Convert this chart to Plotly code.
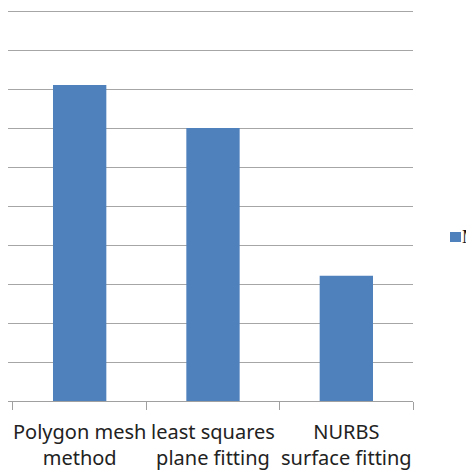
import plotly.graph_objects as go

# categories (first one is cut off at the left edge of the picture)
categories = ["Delaunay<br>triangulation", "Polygon mesh<br>method",
              "least squares<br>plane fitting", "NURBS<br>surface fitting"]
bar_categories = categories[1:]
bar_values = [8.1, 7.0, 3.21]
series_name = "Mean error"
bar_color = "#4f81bd"

# pixel layout (page body adds an 8px offset)
plot_w, plot_h = 405, 393
cat_px = 133.5
left_cut = 5  # px of the first category visible left of its boundary

x0 = 0.5 - left_cut / cat_px
y_top = plot_h / 39.0

fig = go.Figure()
fig.add_trace(go.Bar(
    x=bar_categories, y=bar_values, name=series_name,
    marker=dict(color=bar_color, line=dict(width=0)),
    showlegend=False,
))

# label of the clipped first category (axis won't draw it outside the range)
idx0 = 0
fig.add_annotation(
    x=(idx0 - x0) / (3.5 - x0), y=0, xref="paper", yref="paper",
    text=categories[0], showarrow=False, xanchor="center", yanchor="top",
    yshift=-22, font=dict(family="Noto Sans", size=20, color="#222222"),
)

# legend entry, cut off at the right edge like the reference
fig.add_shape(
    type="rect", xref="paper", yref="paper",
    x0=442 / plot_w, x1=453 / plot_w, y0=1 - 234 / plot_h, y1=1 - 224 / plot_h,
    fillcolor=bar_color, line=dict(width=0),
)
fig.add_annotation(
    x=453 / plot_w, y=1 - 229 / plot_h, xref="paper", yref="paper",
    text=series_name, showarrow=False, xanchor="left", yanchor="middle",
    borderpad=0, font=dict(family="Liberation Serif", size=18, color="#111111"),
)

fig.update_layout(
    width=474, height=474,
    margin=dict(l=0, r=474 - plot_w, t=0, b=474 - plot_h, autoexpand=False),
    paper_bgcolor="white", plot_bgcolor="white",
    bargap=0.6,
    showlegend=False,
    xaxis=dict(type="category", categoryorder="array", categoryarray=categories,
               range=[x0, 3.5], showgrid=False, zeroline=False, automargin=False,
               showline=True, linecolor="#a0a0a0", linewidth=1.2,
               ticks="outside", ticklen=8, tickcolor="#a0a0a0", tickwidth=1.2,
               tickson="boundaries", tickangle=0, ticklabelstandoff=13,
               tickfont=dict(family="Noto Sans", size=20, color="#222222")),
    yaxis=dict(range=[0, y_top], dtick=1, showgrid=True, gridcolor="#a6a6a6",
               gridwidth=1.2, zeroline=False, showticklabels=False, showline=False,
               automargin=False),
)

fig.write_html("out.html")
